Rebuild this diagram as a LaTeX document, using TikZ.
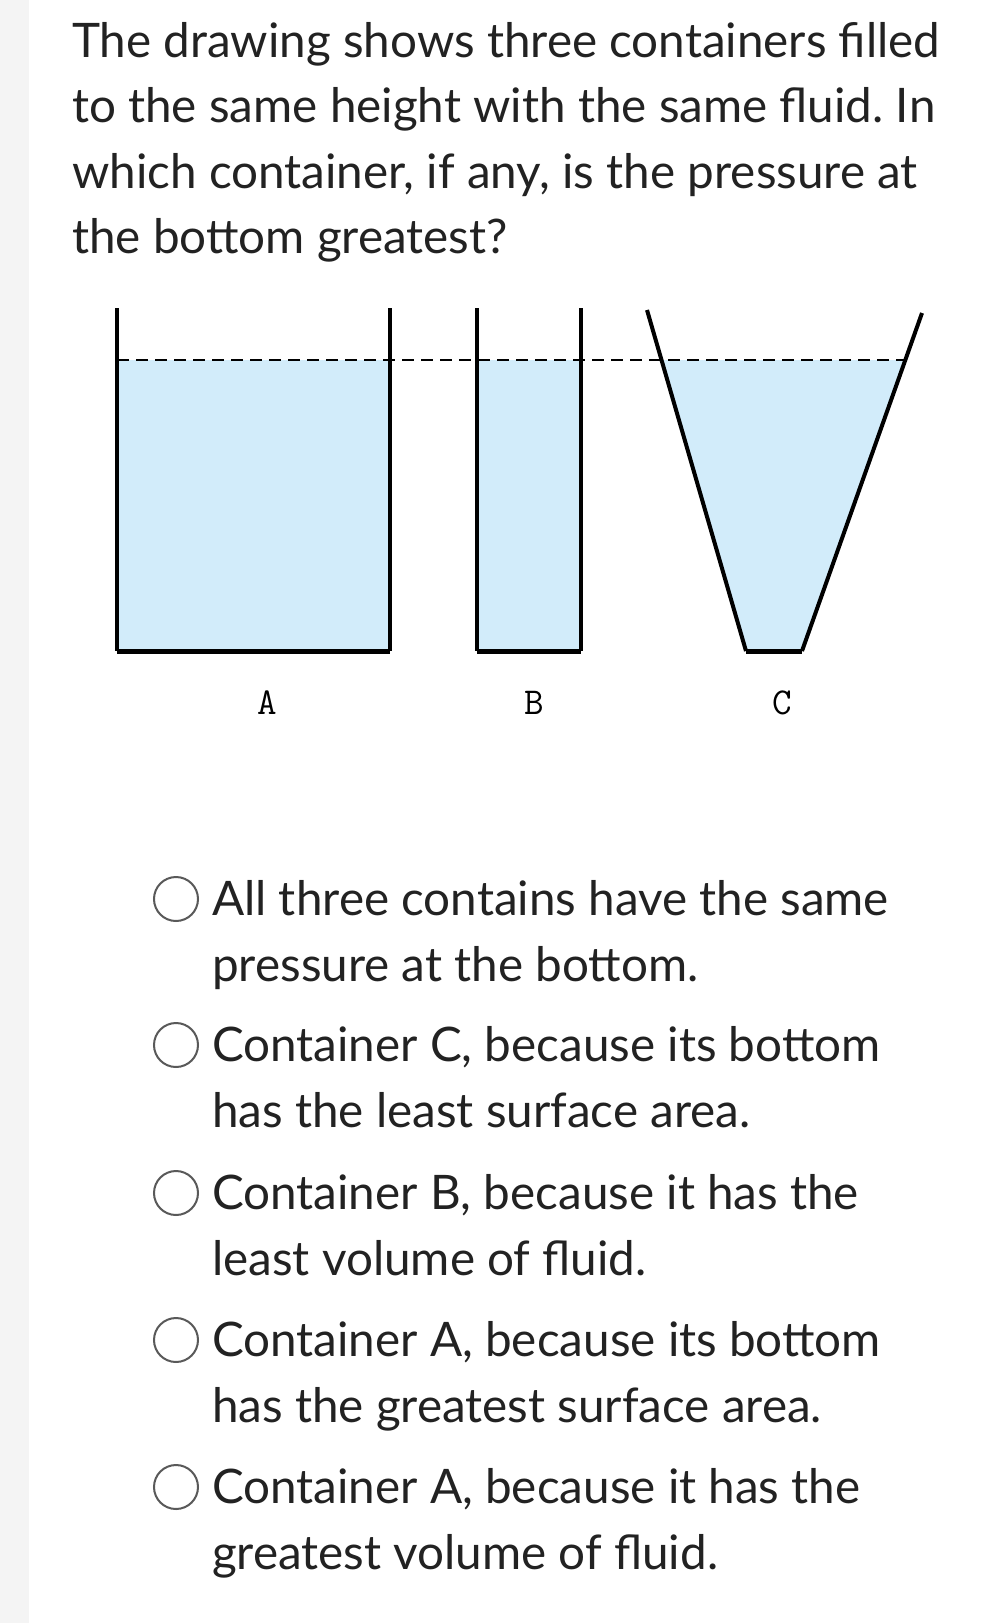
\documentclass[tikz,border=0pt]{standalone}
\usepackage{fontspec}
\setmainfont{Lato}
\definecolor{fluid}{HTML}{D2ECFA}
\definecolor{strip}{HTML}{F4F4F4}
\definecolor{txt}{HTML}{222222}
\begin{document}
\frenchspacing
\begin{tikzpicture}[x=1pt,y=-1pt,
  wall/.style={line width=4pt,black},
  base/.style={line width=5pt,black},
  opt/.style={anchor=base west,font=\fontsize{47.6}{66}\selectfont,text=txt,inner sep=0pt},
  radio/.style={circle,draw=gray!70!black,line width=2pt,minimum size=44pt,inner sep=0pt},
  lbl/.style={font=\ttfamily\fontsize{38}{38}\selectfont}]
\useasboundingbox (0,0) rectangle (1002,1623);
\fill[white] (0,0) rectangle (1002,1623);
\fill[strip] (0,0) rectangle (29,1623);
\foreach \y/\t [count=\i] in {57/{The drawing shows three containers filled},122/{to the same height with the same fluid. In},188/{which container, if any, is the pressure at},253/{the bottom greatest?}}
 \node[opt] (q\i) at (72,\y) {\t};
% fluid
\fill[fluid] (117,360) rectangle (390,651);
\fill[fluid] (477,360) rectangle (581,651);
\fill[fluid] (661,360) -- (905,360) -- (802,651) -- (746,651) -- cycle;
\draw[line width=2.2pt,dash pattern=on 12pt off 7pt] (117,360) -- (905,360);
% containers
\draw[wall] (117,308) -- (117,651); \draw[wall] (390,308) -- (390,651);
\draw[base] (117,651) -- (390,651);
\draw[wall] (477,308) -- (477,651); \draw[wall] (581,308) -- (581,651);
\draw[base] (477,651) -- (581,651);
\draw[wall] (647,310) -- (746,651); \draw[wall] (922,313) -- (802,651);
\draw[base] (746,651) -- (802,651);
\node[lbl] (la) at (267,703) {A};
\node[lbl] (lb) at (534,703) {B};
\node[lbl] (lc) at (782,703) {C};
% options
\foreach \y/\a/\b [count=\i] in {
 899/{All three contains have the same}/{pressure at the bottom.},
 1045/{Container C, because its bottom}/{has the least surface area.},
 1193/{Container B, because it has the}/{least volume of fluid.},
 1340/{Container A, because its bottom}/{has the greatest surface area.},
 1487/{Container A, because it has the}/{greatest volume of fluid.}}{
 \node[radio] (r\i) at (176,\y) {};
 \node[opt] (o\i) at (212,\y+16) {\a};
 \node[opt] (p\i) at (212,\y+82) {\b};
}
\end{tikzpicture}
\end{document}
